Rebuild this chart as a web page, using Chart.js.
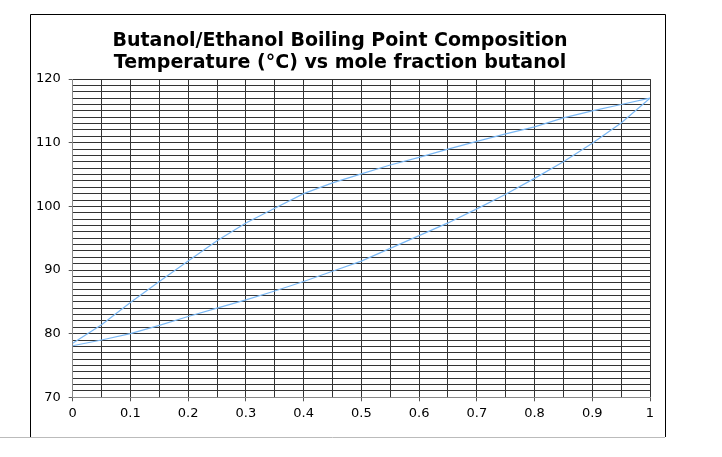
<!DOCTYPE html>
<html>
<head>
<meta charset="utf-8">
<script src="https://cdn.jsdelivr.net/npm/chart.js@4/dist/chart.umd.min.js"></script>
<style>
  html, body { margin: 0; padding: 0; background: #fff; }
  #wrap { width: 722px; height: 457px; }
</style>
</head>
<body>
<div id="wrap"><canvas id="bpChart"></canvas></div>
<script>
// mole fraction butanol
var moleFraction = [0, 0.05, 0.1, 0.15, 0.2, 0.25, 0.3, 0.35, 0.4, 0.45, 0.5,
                    0.55, 0.6, 0.65, 0.7, 0.75, 0.8, 0.85, 0.9, 0.95, 1];
// lower curve (liquid / bubble point)
var liquidTemp = [78.1, 79.0, 80.0, 81.3, 82.7, 84.0, 85.3, 86.7, 88.2, 89.8, 91.4,
                  93.4, 95.4, 97.4, 99.6, 101.9, 104.4, 107.0, 109.9, 113.1, 117.0];
// upper curve (vapour / dew point)
var vaporTemp = [78.5, 81.4, 84.9, 88.2, 91.4, 94.6, 97.4, 99.7, 102.0, 103.7, 105.1,
                 106.5, 107.7, 109.0, 110.2, 111.4, 112.5, 113.9, 115.0, 116.0, 117.0];

var xLabels = ["0", "0.1", "0.2", "0.3", "0.4", "0.5", "0.6", "0.7", "0.8", "0.9", "1"];
var yLabels = [70, 80, 90, 100, 110, 120];

var titleLines = ["Butanol/Ethanol Boiling Point Composition",
                  "Temperature (\u00B0C) vs mole fraction butanol"];

function toPoints(xs, ys) {
  return xs.map(function (x, i) { return { x: x, y: ys[i] }; });
}

function xLabelFor(value) {
  var hundredths = Math.round(value * 100);
  if (hundredths % 10 !== 0) return "";
  return xLabels[hundredths / 10];
}

function yLabelFor(value) {
  var v = Math.round(value);
  return yLabels.indexOf(v) >= 0 ? String(v) : "";
}

// white page + frame around the chart
var framePlugin = {
  id: "frame",
  beforeDraw: function (chart) {
    var ctx = chart.ctx;
    ctx.save();
    ctx.fillStyle = "#fff";
    ctx.fillRect(0, 0, chart.width, chart.height);
    ctx.lineWidth = 1;
    ctx.strokeStyle = "#000";
    ctx.beginPath();
    ctx.moveTo(30.5, 437);
    ctx.lineTo(30.5, 14.5);
    ctx.lineTo(665.5, 14.5);
    ctx.lineTo(665.5, 437);
    ctx.stroke();
    ctx.strokeStyle = "#bbb";
    ctx.beginPath();
    ctx.moveTo(0, 437.5);
    ctx.lineTo(665, 437.5);
    ctx.stroke();
    ctx.restore();
  }
};

Chart.defaults.font.family = "'DejaVu Sans', Verdana, sans-serif";
Chart.defaults.font.size = 13;
Chart.defaults.color = "#000";

new Chart("bpChart", {
  type: "line",
  data: {
    datasets: [{
      label: "Liquid",
      data: toPoints(moleFraction, liquidTemp),
      borderColor: "#7ab8f5",
      borderWidth: 1.2,
      pointRadius: 0,
      tension: 0,
      fill: false
    }, {
      label: "Vapour",
      data: toPoints(moleFraction, vaporTemp),
      borderColor: "#7ab8f5",
      borderWidth: 1.2,
      pointRadius: 0,
      tension: 0,
      fill: false
    }]
  },
  options: {
    responsive: true,
    maintainAspectRatio: false,
    animation: false,
    layout: {
      padding: { left: 30, right: 72, top: 14, bottom: 20 }
    },
    plugins: {
      legend: { display: false },
      tooltip: { enabled: false },
      title: {
        display: true,
        text: titleLines,
        color: "#000",
        font: { size: 19, weight: "bold", lineHeight: 1.16 },
        padding: { top: 16, bottom: 5 }
      }
    },
    scales: {
      x: {
        type: "linear",
        min: 0,
        max: 1,
        afterFit: function (scale) { scale.height = 39.7; },
        ticks: {
          stepSize: 0.05,
          autoSkip: false,
          maxRotation: 0,
          padding: 5,
          font: { size: 13 },
          callback: function (value) { return xLabelFor(value); }
        },
        grid: {
          color: "#333",
          lineWidth: 1,
          tickLength: 4,
          tickColor: function (ctx) {
            return ctx.tick && xLabelFor(ctx.tick.value) !== "" ? "#555" : "rgba(0,0,0,0)";
          }
        },
        border: { color: "#888" }
      },
      y: {
        min: 70,
        max: 120,
        afterFit: function (scale) { scale.width = 42.7; },
        ticks: {
          stepSize: 1,
          autoSkip: false,
          padding: 8,
          font: { size: 13 },
          callback: function (value) { return yLabelFor(value); }
        },
        grid: {
          color: "#333",
          lineWidth: 1,
          tickLength: 4,
          tickColor: function (ctx) {
            return ctx.tick && yLabelFor(ctx.tick.value) !== "" ? "#555" : "rgba(0,0,0,0)";
          }
        },
        border: { color: "#888" }
      }
    }
  },
  plugins: [framePlugin]
});
</script>
</body>
</html>
